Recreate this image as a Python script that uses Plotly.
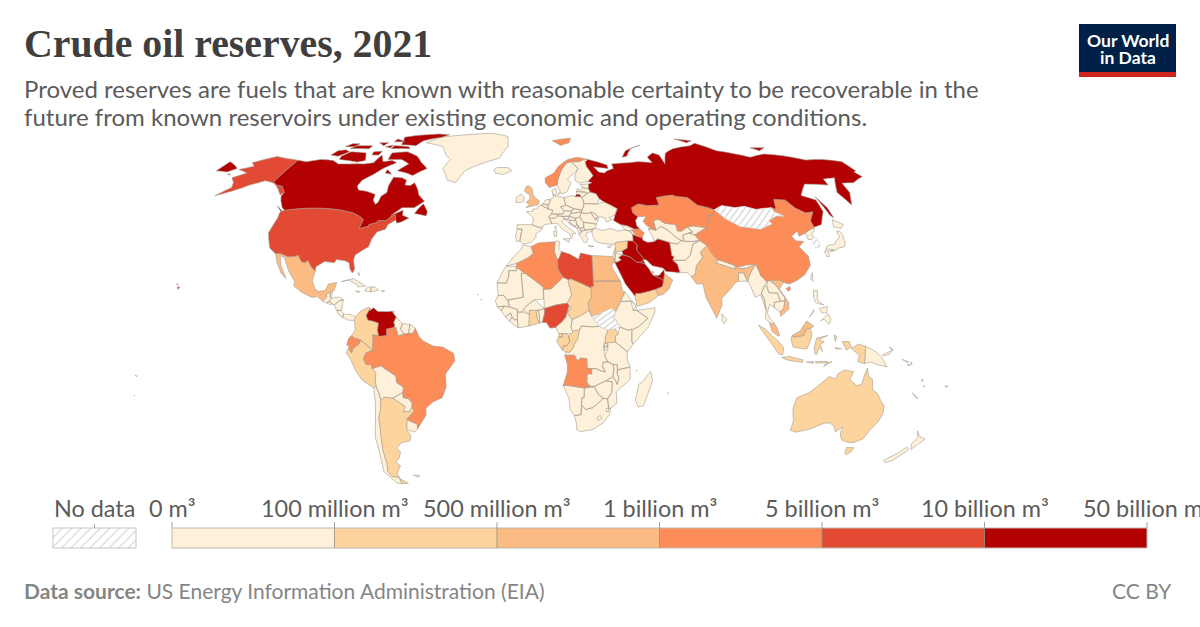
import numpy as np
import plotly.graph_objects as go

# ---------- values (million cubic metres), read / ----------
iso_codes = ["CAN","USA","RUS","SAU","IRN","IRQ","KWT","ARE","QAT","VEN","NGA","LBY","DZA","AGO","BRA","ECU","KAZ","CHN","NOR","AZE",
 "COL","PER","ARG","MEX","GBR","IND","EGY","SDN","OMN","VNM","MYS","IDN","AUS","GHA","GAB","COG","UGA","TCD","YEM","SYR","GNQ","BRN",
 "GRL","ISL","IRL","PRT","ESP","FRA","BEL","NLD","DEU","DNK","CHE","AUT","ITA","POL","CZE","SVK","HUN","SVN","HRV","BIH","SRB","MNE","ALB","MKD","GRC","BGR","ROU","MDA","UKR","BLR","LTU","LVA","EST","FIN","SWE","TUR","GEO","ARM","CYP","LBN","ISR","JOR",
 "UZB","TKM","KGZ","TJK","AFG","PAK","NPL","BTN","BGD","PRK","JPN","TWN","MMR","THA","LAO","KHM","PHL","LKA","PNG","NZL","NCL","FJI","SLB",
 "GTM","BLZ","HND","SLV","NIC","CRI","PAN","CUB","HTI","DOM","JAM","PRI","BHS","TTO","GUY","SUR","GUF","BOL","PRY","CHL","URY","FLK",
 "MAR","ESH","TUN","ERI","DJI","ETH","SOM","KEN","TZA","RWA","BDI","COD","CMR","CAF","NER","BEN","TGO","CIV","LBR","SLE","GIN","GNB","SEN","MLI","MRT","BFA","NAM","ZMB","MWI","MOZ","ZWE","BWA","ZAF","LSO","SWZ","MDG",
 "VUT","CPV","MUS","COM","WSM","TON","TLS",
 "MNG","SSD","KOR"]
reserves_million_m3 = [26800,7500,12700,41000,33000,23000,16000,15500,4000,48000,5900,7700,1940,1200,2000,1300,4800,4100,1200,1110,
 320,140,380,900,520,700,520,800,850,700,570,390,300,105,320,250,400,240,480,400,175,170,
 1,1,1,20,25,15,1,15,20,70,1,8,80,20,2,2,5,1,10,1,12,1,25,1,2,2,95,1,60,30,2,1,1,1,1,50,5,1,1,1,2,1,
 94,95,6,2,1,55,1,1,4,1,7,0.5,20,60,1,1,20,1,30,6,1,1,1,
 12,1,1,1,1,1,1,20,1,1,1,1,1,40,1,14,1,30,1,25,1,1,
 1,1,68,1,1,1,1,1,1,1,1,28,30,1,25,1,1,16,1,1,1,1,1,1,1,1,1,1,1,1,1,2,1,1,1,1,
 1,1,1,1,1,1,1,
 None,None,None]
assert len(iso_codes) == len(reserves_million_m3)
bin_edges = [100,500,1000,5000,10000]
bin_colors = ["#fef0d9","#fdd49e","#fdbb84","#fc8d59","#e34a33","#b30000"]
legend_labels = ["0 m³","100 million m³","500 million m³","1 billion m³","5 billion m³","10 billion m³","50 billion m³"]

# ---------- hand-traced base map (lon,lat rings); no topojson is reachable offline ----------
GEO = {
"CAN":["-141,69.6 -135,69 -128,70 -120,69.5 -115,68 -108,68 -100,68 -95,68.5 -94,72 -90,69 -85,69.5 -81.5,68.5 -87,66 -90,63.5 -94,61 -94.5,58.7 -92.5,57 -88,56.5 -82.5,55.2 -82,53 -80,51.3 -79,52 -79,54.5 -77,56 -78,58.7 -78,62.3 -73,62 -70,61 -69.5,59 -66.5,58.8 -65,60 -62,57.5 -60,55 -56,52.5 -60,50 -66,50 -70,47 -65,49 -64.5,47 -61,46 -64,44.5 -66,44 -67,45.2 -68,47.3 -70,46.5 -71.5,45 -75,45 -76.5,44 -79,43.5 -79,42.8 -83,42 -82.5,45.3 -84.5,46.5 -89,48 -95,49 -123,49 -125,50 -128,52.5 -130,54.5 -130,56 -134,58.5 -137.5,59 -141,60.3",
 "-62,66 -68,63 -72,64 -78,65 -74,68 -80,70 -88,70 -89,73 -80,73.5 -72,71.5 -67,68.5","-117,70 -105,68.8 -101,69.5 -105,73 -115,73.5 -118,71.5","-62,82.5 -70,83 -85,82 -92,81 -88,77 -78,76.5 -76,79 -66,81","-125,72 -120,71.5 -116,73.5 -120,74.5 -124,74","-80,75 -92,75 -92,76.5 -82,76","-59,47.7 -53,46.8 -53,48.5 -56,51.5 -57.5,50","-128,50.7 -123.5,48.4 -125,48.8","-84,64 -80,63.5 -84,65.5","-118,75 -106,75 -106,76.5 -116,76.5","-100,72 -96,72 -96,73.8 -101,73.5","-95,80 -88,78.5 -95,78.5","-123,76 -117,76 -116,77.5 -121,77.5","-104,78 -99,76.5 -98,78","-97,76 -93,75.4 -93,76.8"],
"USA":["-124.7,48.4 -123,49 -95,49 -89,48 -84.5,46.5 -82.5,45.3 -83,42 -79,42.8 -79,43.5 -76.5,44 -75,45 -71.5,45 -70,46.5 -68,47.3 -67,45.2 -70,43.5 -70.5,41.7 -74,40.7 -75.5,38 -76,35 -78,33.9 -81,32 -81.3,30 -80,26.5 -80.7,25.1 -82,26.5 -83,29 -85,29.7 -89,30.2 -89.5,29 -94,29.5 -97.3,27.5 -97.2,25.9 -99.5,27.5 -101.4,29.8 -103,29 -104.5,29.6 -106.5,31.8 -108.2,31.4 -111,31.3 -114.8,32.5 -117.1,32.5 -120.5,34.5 -122.5,37.5 -124.3,40.3 -124,46",
 "-141,69.6 -141,60.3 -137.5,59 -134,58.5 -130,56 -131,55 -135,57.5 -140,59.8 -146,60.8 -152,59 -154,58 -158,56.5 -164,54.7 -160,58 -162,60 -166,62 -161,64 -168,65.5 -162,67 -166,68.5 -156.5,71.3 -150,70.5","-155.9,20 -155,19.7 -155.6,18.9 -156,19.6","-156.7,21 -156,20.9 -156.4,20.6","-171,63.8 -168.8,63.3 -170,63.2"],
"MEX":["-117.1,32.5 -114.8,32.5 -111,31.3 -108.2,31.4 -106.5,31.8 -104.5,29.6 -103,29 -101.4,29.8 -99.5,27.5 -97.2,25.9 -97.8,22.3 -96,19 -94.5,18.2 -91.5,18.5 -90.5,21 -87,21.5 -87.7,18.5 -88.9,17.9 -89.2,17.8 -91,17.2 -90.5,16 -92.2,14.5 -94.5,16.2 -97,15.9 -102,18 -105.5,20.3 -105.5,22 -109,26 -112.5,31 -114.6,31.7 -113,28 -110,24 -109.5,23 -112,25 -115,29"],
"GTM":["-92.2,14.5 -90.5,16 -91,17.2 -89.2,17.8 -89,15.9 -88.3,15.7 -89.3,14.4 -90.2,13.8"],"BLZ":["-89.2,17.8 -88.9,17.9 -88.3,18.4 -88.3,16.5 -89,15.9"],"HND":["-89.3,14.4 -88.3,15.7 -85,16 -83.2,15 -84.7,14.7 -87,13 -87.8,13.4"],"SLV":["-90.2,13.8 -89.3,14.4 -87.8,13.4 -88.8,13.2"],"NIC":["-87,13 -84.7,14.7 -83.2,15 -83.7,11 -85.7,11"],"CRI":["-85.7,11 -83.7,11 -82.6,9.6 -83,8.3 -85,9.6"],"PAN":["-83,8.3 -82.6,9.6 -79.5,9.5 -77.4,8.6 -77.9,7.2 -80.4,7.3"],
"CUB":["-85,21.9 -80,23 -74.2,20.2 -77.7,19.9 -78,20.8 -82,22.4"],"HTI":["-74.4,18.4 -71.8,18 -71.7,19.8 -73.3,19.9"],"DOM":["-71.8,18 -68.4,18.6 -69.9,19.8 -71.7,19.8"],"JAM":["-78.3,18.4 -76.3,18.1 -77,17.7"],"PRI":["-67.2,18.5 -65.7,18.4 -66.5,17.9"],"BHS":["-78.2,25.2 -77.4,25 -77.7,24"],"TTO":["-61.9,10.7 -61,10.7 -61,10.1 -61.9,10.1"],
"COL":["-77.9,7.2 -77.4,8.6 -75.5,10.7 -72,12.2 -71.3,11.8 -72.9,9 -72,7.3 -70,7 -67.5,6.2 -67.8,3.5 -67.3,1.5 -69.8,1.7 -69.7,-0.5 -70,-4.2 -72,-2.4 -75.2,-0.1 -77.5,0.4 -78.9,1.4 -77.3,3.8"],
"VEN":["-71.3,11.8 -71.4,10.9 -70,12 -68,10.6 -64,10.5 -62,10.7 -60,8.5 -61,6.5 -60.5,5.2 -61,4.5 -64,4 -64,1.5 -66.9,1.2 -67.3,1.5 -67.8,3.5 -67.5,6.2 -70,7 -72,7.3 -72.9,9"],
"GUY":["-60,8.5 -57.2,6 -58,4 -56.5,2 -59,1.3 -60,4.5 -61,4.5 -60.5,5.2 -61,6.5"],"SUR":["-57.2,6 -54,5.8 -54.5,2.3 -56.5,2 -58,4"],"GUF":["-54,5.8 -51.6,4.2 -52.7,2.3 -54.5,2.3"],
"BRA":["-51.6,4.2 -50,1 -48,-0.7 -44,-2.5 -40,-2.8 -35.3,-5.2 -34.8,-8 -39,-13 -39,-18 -41,-22 -45,-23.5 -48.5,-26 -48.7,-28.5 -53.4,-33.7 -53.2,-32 -57.6,-30.2 -53.7,-27 -54.6,-25.5 -54.3,-24 -55.8,-22.3 -58,-22 -58,-20 -57.5,-18 -60.2,-16.3 -60.5,-13.7 -65.3,-10.8 -66.5,-9.9 -70.5,-11 -70.6,-9.5 -73,-9.4 -74,-7.3 -72.8,-5 -70,-4.2 -69.7,-0.5 -69.8,1.7 -67.3,1.5 -66.9,1.2 -64,1.5 -64,4 -61,4.5 -60,4.5 -59,1.3 -56.5,2 -54.5,2.3 -52.7,2.3"],
"ECU":["-78.9,1.4 -77.5,0.4 -75.2,-0.1 -75.5,-1.5 -78.3,-3.4 -79,-5 -80.3,-3.4 -79.8,-2.2 -81,-2.2 -80,0.7"],
"PER":["-80.3,-3.4 -79,-5 -78.3,-3.4 -75.5,-1.5 -75.2,-0.1 -72,-2.4 -70,-4.2 -72.8,-5 -74,-7.3 -73,-9.4 -70.6,-9.5 -70.5,-11 -69,-12.5 -69.5,-15.5 -69.4,-17.5 -70.4,-18.3 -75,-15.5 -77.5,-12 -79.5,-7.5 -81.3,-5"],
"BOL":["-69.4,-17.5 -69.5,-15.5 -69,-12.5 -70.5,-11 -66.5,-9.9 -65.3,-10.8 -60.5,-13.7 -60.2,-16.3 -57.5,-18 -58,-20 -62.6,-22.2 -66.2,-21.8 -67.9,-22.8 -68.5,-20"],
"PRY":["-58,-20 -58,-22 -55.8,-22.3 -54.3,-24 -54.6,-25.5 -56,-27.3 -58.6,-27.2 -57.6,-25.3 -62.6,-22.2"],
"CHL":["-70.4,-18.3 -69.4,-17.5 -68.5,-20 -67.9,-22.8 -68.4,-26 -70,-30 -70.2,-33.5 -71,-38 -71.7,-42 -72,-47 -73,-50 -72,-52 -68.5,-52.3 -68.6,-54.9 -71,-54.5 -75,-50 -74,-45 -73.5,-41 -73.5,-37 -71.5,-30 -70.5,-25"],
"ARG":["-62.6,-22.2 -57.6,-25.3 -58.6,-27.2 -56,-27.3 -54.6,-25.5 -53.7,-27 -57.6,-30.2 -58.4,-34 -57,-36.5 -58,-38.3 -62,-39 -65,-41 -63.7,-42.5 -65.3,-45 -67.5,-46.5 -65.8,-47.8 -69,-51 -68.5,-52.3 -72,-52 -73,-50 -72,-47 -71.7,-42 -71,-38 -70.2,-33.5 -70,-30 -68.4,-26 -67.9,-22.8 -66.2,-21.8","-68.6,-52.7 -65.2,-54.7 -68.6,-54.9"],
"URY":["-57.6,-30.2 -53.2,-32 -53.4,-33.7 -55,-35 -58.4,-34"],"FLK":["-61,-51.5 -58,-51.5 -59,-52.3"],
"GRL":["-73,78 -66,81 -50,82.5 -32,83.5 -20,81.5 -18,76 -22,70.5 -32,68 -40,65 -43,60 -48,61 -53,66 -51,70 -55,72 -60,76"],"ISL":["-24,65.5 -22,66.4 -16,66.4 -13.6,65 -18,63.5 -22.5,63.9"],
"GBR":["-5,50 1.3,51.2 1.7,52.7 0,53.5 -1.7,55.5 -2,57.5 -3.5,58.6 -5,58.6 -6,56.5 -3.2,55 -3,53.5 -5,52 -3,51.4"],"IRL":["-10,52 -6.2,52.2 -6,54 -7.3,55.2 -8.3,55 -10,54"],
"PRT":["-9.5,38.8 -8.9,37 -7.4,37.2 -7,39.5 -6.5,41.7 -8.8,41.8"],"ESP":["-8.8,41.8 -6.5,41.7 -7,39.5 -7.4,37.2 -5.6,36 -2,36.8 0,38.6 0,40 3.2,41.9 0,42.7 -1.8,43.4 -9,43.4"],
"FRA":["-1.8,43.4 0,42.7 3.2,42.4 4,43.5 7.5,43.8 6.7,45.5 6,46.2 7.5,47.6 8.2,49 6,49.5 2.5,51 1.5,50.5 0,49.5 -1.5,49.5 -1.5,48.6 -4.7,48.5 -1.2,46","8.6,42.5 9.5,43 9.4,41.5"],
"BEL":["2.5,51 3.4,51.4 5.8,51.2 6,50 6,49.5"],"NLD":["3.4,51.4 4.7,53 7.1,53.3 6.9,52 5.9,50.8 5.8,51.2"],"DEU":["6,49.5 6,50 5.9,50.8 6.9,52 7.1,53.3 8.9,54 8.7,55 10,54.7 14.2,53.9 14.7,51 12.2,50.3 13.8,48.7 13,47.5 9.6,47.5 7.6,47.6 8.2,49"],
"DNK":["8.7,55 8.2,57 10.6,57.7 10.5,56 10,54.7","11,55 12.6,55.7 12,56"],"CHE":["6,46.2 7.5,47.6 9.6,47.5 10.4,46.8 9,45.9 7.5,45.9"],"AUT":["9.6,47.5 13,47.5 13.8,48.7 17,48.7 17,47.7 16,46.7 13,46.6 10.4,46.8"],
"ITA":["6.7,45.5 7.5,43.8 10,44 12.3,41.7 15.6,40 16.2,38 17,39 16.8,40 18.5,40.1 16,41.8 13.6,43.5 12.3,44.5 13.7,45.7 13,46.6 10.4,46.8 9,45.9 7.5,45.9","12.5,38 15.6,38.2 15.1,36.7","8.2,41 9.7,41 9.5,39 8.5,39"],
"POL":["14.2,53.9 18.5,54.8 19.8,54.4 23,54.3 24,52.5 23.5,50.4 22.6,49.1 19,49.4 14.7,51"],"CZE":["12.2,50.3 14.7,51 18.8,49.6 17,48.7 13.8,48.7"],"SVK":["17,48.7 18.8,49.6 22.5,49.1 22.1,48.4 18.8,47.9 17,47.9"],"HUN":["16,46.7 17,47.8 18.8,47.9 22.1,48.4 21,46.3 18.8,45.9"],
"SVN":["13.7,45.5 13,46.6 16,46.7 15.5,45.6"],"HRV":["13.7,45.5 15.5,45.6 16,46.7 18.8,45.9 19,45 16,45.2 16,44.3 18.5,42.5 16,43.5 14.8,45"],"BIH":["16,45.2 19,45 19.3,43.6 18.5,42.5 16,44.3"],"SRB":["18.8,45.9 21,46.3 22.6,44.3 22.4,42.4 20.6,41.9 20,42.9 19.3,43.6 19,45"],"MNE":["18.5,42.5 19.3,43.6 20,42.9 19.3,41.9"],"ALB":["19.3,41.9 20,42.9 20.6,41.9 21,40.5 20,39.7"],"MKD":["20.6,41.9 22.4,42.4 23,41.3 21,40.9"],
"GRC":["20,39.7 21,40.5 21,40.9 23,41.3 26.3,41.7 26,40.8 23.5,40.3 23,39 24,38 22.9,36.5 21.7,36.9 21,38.5","23.6,35.5 26.3,35.2 24.7,35"],"BGR":["22.6,44.3 27.7,43.7 28.6,43.4 27.6,42 26.3,41.7 23,41.3 22.4,42.4"],"ROU":["21,46.3 22.1,48 24.9,47.7 26.6,48.2 28,46 28.2,45.5 29.7,45 28.6,43.7 27.7,43.9 22.6,44.3"],"MDA":["26.6,48.2 28,48 30,46.4 28.2,45.5 28,46"],
"UKR":["22.1,48.4 22.5,49.1 23.5,50.4 24,51.6 30.5,51.4 34,52.3 40,49.6 38.2,47.1 35,46.2 36.5,45.4 33.5,44.4 33,46 30.7,46.5 29.7,45.5 28.2,45.5 30,46.4 28,48 26.6,48.2 24.9,47.7 22.1,48"],
"BLR":["23.5,52 24,51.6 30.5,51.4 32,53.5 31,55.5 28,56.2 26.6,55.7 23.5,54"],"LTU":["21,56.4 21,55.3 22.8,54.4 23.5,54 26.6,55.7 25,56.4"],"LVA":["21,56.4 21.6,57.6 23.2,57 24.4,58 27.5,57.5 28,56.2 26.6,55.7"],"EST":["23.5,59.2 28,59.5 27.5,57.5 24.4,58"],
"FIN":["21,61 22.9,59.8 28,60.5 31.5,62.9 29,66.9 29,69 28,70 25.7,69 20.6,69 23.9,66 21.5,63"],"SWE":["11.2,59 13,55.4 16,56.2 18.8,60 17,61.5 21.5,64 23.9,66 20.6,69 18,68.5 14.5,65.5 12,61.5"],
"NOR":["5,60 7,58 11.2,59 12,61.5 14.5,65.5 18,68.5 20.6,69 25.7,69 28,70 31,70 25,71 19,70 13,67 10,64 5,62","11,79 24,80.5 22,78 16,76.6"],
"RUS":["28,59.5 30,60 28,60.5 31.5,62.9 29,66.9 29,69 31,70 41,67.5 41,66 35,66.5 33,66.7 35,64.5 38,64 40,65 44,66 44,68 54,68.5 60,69 68,68.5 67,71 72,73 75,72 75,68 80,73 87,75 100,76.5 105,77.7 113,74 129,71 140,72.5 150,71.7 160,69.7 170,70 179.9,69 179.9,65 178,64.5 179,62.5 170,60 163.5,59.8 162,56 156.7,51 155.5,56 163,62 156,61.5 155,59 143,59.4 135.5,54.8 141,53 140,48.5 135,43.5 131,42.5 130.7,43 131,45 135,48.4 131,48 127.5,50 125.5,53 120,53.3 117.8,49.5 116,50 108,49.3 103,50.5 98,50 92,50.8 87.3,49.2 85,50 80,51 77,54 71,54.5 70,55 61,54 61,51 55,50.8 51,51.5 47,50 47,48 49,46.5 47.5,45 47.5,43 48.5,41.8 46,41.8 43,43 40,43.5 37,45 38.2,47.1 40,49.6 34,52.3 32,53.5 31,55.5 28,56.2 27.5,57.5",
 "-179.9,69 -170,66 -173,64.5 -179.9,65","142,54.3 143.5,50 143,46 142,47 142,52","52,71 56,74 68,76.8 60,75 55,71.5","95,80 105,79 100,78","137,75.5 146,75.5 140,74","19.8,54.4 22.8,54.4 22.6,55.1 20.9,55.3"],
"TUR":["26,40 26.3,41.7 28,42 31,41.2 35,42 38,41 41.5,41.5 43.5,41 44.8,39.7 44.5,37.2 42,37.2 36.5,36.7 36,36 32,36.1 30,36.3 27.3,37 26.3,39"],"GEO":["40,43.5 43,43 46,41.8 43.5,41 41.5,41.5"],"ARM":["43.5,41 45,41.2 46.5,39 44.8,39.7"],"AZE":["45,41.2 46,41.8 48.5,41.8 50.3,40.3 48.9,38.4 46.5,39"],"CYP":["32.3,35 34.5,35.6 33.5,34.6"],
"SYR":["36,36 36.5,36.7 42,37.2 41.3,34.5 38.8,33.4 36,33 35.9,35"],"LBN":["35.1,33.1 36,33.9 36.4,34.5 35.9,34.6"],"ISR":["34.3,31.3 35.1,33.1 35.7,33 35.5,31 34.9,29.5"],"JOR":["35,29.4 35.5,32.7 36.8,32.3 39,32 37,31 38,30 36,29.2"],
"IRQ":["38.8,33.4 41.3,34.5 42,37.2 44.5,37.2 46,35.7 45.4,34 46,33 47.7,31 48.6,30 47.7,30.1 46.5,29.1 44.7,29.2 42,31.2 39,32"],
"IRN":["44.5,37.2 44.8,39.7 46.5,39 48.9,38.4 49,37.5 51,36.7 54,36.9 56,38 61,36.6 60.9,34.3 60.8,31.5 61.7,31.4 60.9,29.9 62.7,28.3 63.3,25.3 57.3,25.7 56,27 51.5,27.9 48.9,30.3 48.6,30 47.7,31 46,33 45.4,34 46,35.7"],
"KWT":["46.5,29.1 47.7,30.1 48.4,28.5"],"SAU":["34.9,29.4 36,29.2 38,30 37,31 39,32 42,31.2 44.7,29.2 46.5,29.1 48.4,28.5 50,26.5 50.8,24.8 51.6,24.2 55.2,22.7 55.7,22 55,20 52,19 48.9,18.2 45,17.4 43.3,17.5 42.8,16.4 39,21 37,25 35.5,28"],"QAT":["50.8,24.8 51.2,26.1 51.6,25"],"ARE":["51.6,24.2 54,24.2 56.4,26.3 56.4,24.9 55.7,22 55.2,22.7"],"OMN":["56.4,24.9 59.8,22.5 57.7,19 55,17 53,16.6 52,19 55,20 55.7,22"],"YEM":["43.3,17.5 45,17.4 48.9,18.2 52,19 53,16.6 49,14 45,12.8 43.5,12.7 42.8,16.4"],
"KAZ":["47,48 47,50 51,51.5 55,50.8 61,51 61,54 70,55 71,54.5 77,54 80,51 85,50 87.3,49.2 85.5,47 83,47 82.5,45.3 80,42.2 74,43 71,42.5 68,41 66,41 66,43.5 61,44 58.5,45.5 56,45 56,41.3 53,42 52.5,41.7 54.7,42 52.5,42.8 51,44.6 53,46.7 49,46.5"],
"UZB":["56,41.3 56,45 58.5,45.5 61,44 66,43.5 66,41 68,41 71,42.5 73,40.7 71,40.2 68,39.5 67.5,37.3 66.5,37.4 64,39 61.9,41.1 60,42.2 58.5,42.7"],"TKM":["52.5,41.7 53,42 56,41.3 58.5,42.7 60,42.2 61.9,41.1 64,39 66.5,37.4 64.5,36 61,36.6 56,38 54,36.9 53.8,39"],"KGZ":["71,42.5 74,43 80,42.2 73.5,39.5 71,40.2 73,40.7"],"TJK":["68,39.5 71,40.2 73.5,39.5 75,37.4 71.5,37 67.8,37.1"],
"AFG":["61,36.6 64.5,36 66.5,37.4 67.8,37.1 71.5,37 75,37.4 71.5,36 70,33.5 69.3,31.9 66.4,29.9 60.9,29.9 61.7,31.4 60.8,31.5 60.9,34.3"],"PAK":["60.9,29.9 66.4,29.9 69.3,31.9 70,33.5 71.5,36 75,37.4 77.8,35.5 74,33 74.5,31 71,27.8 70,24.5 68,23.7 66.5,25.4 61.6,25.1 62.7,28.3"],
"IND":["68,23.7 70,24.5 71,27.8 74.5,31 74,33 77.8,35.5 79,32.5 81,30.2 80,28.8 88,26.5 88,28 89.5,26.8 92,26.8 97,28.3 95,26 93.5,24 92.5,22 91.5,24.3 92,25 89,25.3 88.5,22 87,21.4 85,19.5 80.3,15.5 80.2,13 77.5,8 76,11 73.5,16 72.8,21 70,21 69,22.5"],
"NPL":["80,28.8 81,30.2 88,28 88,26.5"],"BTN":["89,27.3 92,28 92,26.8 89.5,26.8"],"BGD":["88.5,22 89,25.3 92,25 91.5,24.3 92.5,22 90,22"],
"CHN":["73.5,39.5 80,42.2 82.5,45.3 83,47 85.5,47 87.3,49.2 91,45.5 96,42.7 105,41.7 111.8,43.7 111,45 116,46.8 119.7,46.7 116,48.5 116,50 117.8,49.5 120,53.3 125.5,53 127.5,50 131,48 135,48.4 131,45 130.7,43 130.7,42.3 128,41.5 124.4,40 121.5,39 121.8,41 118,39 119,37.3 122.5,37 119.3,35 121.9,31.5 121.5,28 118,24.5 114,22.3 110.5,21 108,21.6 106.5,22.5 102,22.4 101,21.7 98.7,24 97.5,28.3 92,28 89,27.3 88,28 81,30.2 79,32.5 77.8,35.5 75,37.4","108.7,19.3 110.6,20 110.5,18.8 109.5,18.2"],
"TWN":["120.2,23 121.5,25.3 121,22"],"MNG":["87.3,49.2 92,50.8 98,50 103,50.5 108,49.3 116,50 116,48.5 119.7,46.7 116,46.8 111,45 111.8,43.7 105,41.7 96,42.7 91,45.5"],"PRK":["124.4,40 128,41.5 130.7,42.3 129.7,41 127.5,39.7 128.3,38.6 126.7,37.8 125,37.8 125.3,39.5"],"KOR":["126.7,37.8 128.3,38.6 129.4,37 129,35.2 126.5,34.5"],
"JPN":["130.9,34 132.5,35.5 136,36 137.5,37.3 139.8,38.5 140.3,41 141.5,41 142,39.5 140.9,36 139.8,35 136.8,34.5 135,33.6 132.5,34.2","130,33.4 131.8,33.5 131.3,31.3 130.2,31.3","132.3,33.4 134.6,34 134,33.3","140,42.5 141.7,45.4 145.3,43.5 143,42"],
"MMR":["92.5,22 93.5,24 95,26 97.5,28.3 98.7,24 101,21.7 99.5,20.3 97.7,17.5 98.7,15 99,11 98,14 97.3,17 95,15.9 94.3,17.5 93.5,20"],"THA":["99,11 98.7,15 97.7,17.5 99.5,20.3 100.5,20 101,17.7 104.7,17.5 105.5,14.5 102.8,14 102.5,12 100.8,13.4 99.3,10 101,7 102,6.2 101,5.7 100,6.5 98.3,8"],"LAO":["101,21.7 102,22.4 104.5,20.5 107.5,16 107.5,14.5 105.5,14.5 104.7,17.5 101,17.7 100.5,20"],"VNM":["102,22.4 106.5,22.5 108,21.6 105.8,19 109,14 108.8,11.5 105,8.7 104.8,10.5 106.5,11.5 107.5,14.5 107.5,16 104.5,20.5"],"KHM":["102.5,12 102.8,14 105.5,14.5 107.5,14.5 106.5,11.5 104.8,10.5"],
"MYS":["100,6.5 101,5.7 102,6.2 103.4,4 104.2,1.4 103.4,1.4 101,3","109.7,1.6 113,3.2 116,7 119,5 117.5,4.2 115.5,3.9 114.5,1.5 110,0.9"],"BRN":["114.1,4.6 115.1,5 115,4.1"],
"IDN":["95.3,5.5 98,4 104,-1 106,-3 105.7,-5.8 104,-5.5 100.3,-1 97,3","109,0.5 109.7,1.6 110,0.9 114.5,1.5 115.5,3.9 117.5,4.2 118,2 117.5,0 116,-3.5 114,-3.5 110,-2.9","105.3,-6.8 108.5,-6.4 114.5,-7.7 114.3,-8.7 108,-7.8","119.5,-5.5 119,-3 120,0.5 124.8,1.5 121,0 123.3,-0.9 121.5,-1.9 122.8,-4.5 121,-3 120.4,-5.5","131,-0.8 134,-0.8 135,-3.3 138,-1.7 141,-2.6 141,-9.1 138,-8.3 138.5,-6 134.5,-3 132.8,-4","116,-8.5 119,-8.4 119,-9","120,-8.3 125,-8.3 125,-8.8 120,-8.9","123.6,-10.3 125,-9.3 124.2,-9.3","127.5,1.8 128.7,1 128,-0.8","128,-3 130.8,-3.5 128.3,-3.6"],
"TLS":["125,-9.3 127,-8.4 125,-8.8"],
"PHL":["120.5,18.5 122.2,18.4 121.5,15 124,13 120.7,13.9 120,16","122,7 125.5,9.7 126.5,7.5 125.5,5.7 123.5,7.7","122,11.7 125.5,12.5 124.8,10 122.8,10","117.2,8.4 119.5,11.3 119.3,10.3"],"LKA":["79.8,9.7 81.8,7.5 80.7,5.9 79.8,7"],
"PNG":["141,-2.6 145,-4.3 148,-6.5 150.8,-10.3 147,-9.6 143.5,-8.5 141,-9.1","148.3,-5.7 152.3,-4.2 151.5,-5.5 149,-6.2","151,-2.7 153,-4 152.7,-4.3"],"SLB":["157,-7.5 160,-8.5 159,-8.5","159.5,-9.3 160.8,-9.7 160,-9.9","161,-8.5 161.5,-9.6 160.7,-8.9"],
"AUS":["114,-22 113.2,-26 115,-31 115,-34.3 118,-35 123.5,-33.9 129,-31.6 131.5,-31.5 134,-32.7 135.7,-34.9 138,-33 138.3,-35.6 140.5,-38 143.5,-38.8 146.5,-39 150,-37.5 151,-34 153,-31 153.6,-28 153,-25 150.8,-23 149,-20.5 146.3,-19 145.3,-15 143.5,-14 142.5,-10.8 141.7,-13 141,-17 139,-17.4 135.5,-15 136.8,-12.2 132.7,-11.5 130,-13 129.5,-15 126.5,-14 122.3,-17.5 119,-20","144.7,-40.8 148.3,-40.9 148,-42.5 146.8,-43.6 145.5,-42.9"],
"NZL":["172.7,-34.5 175,-36.5 178.5,-37.7 177,-39.5 175.3,-41.6 173.8,-39.3 174.7,-37","172.7,-40.6 174.3,-41.7 170.8,-45.9 168.4,-46.6 166.5,-45.8 170.5,-43"],"NCL":["164,-20.1 167,-22.3 165.5,-21.7"],"FJI":["177.3,-17.5 178.6,-17.5 178,-18.2"],
"VUT":["166.6,-15 167.2,-15.2 167,-16","167.8,-17.5 168.5,-17.6 168.2,-18"],"CPV":["-25.3,17.1 -24.9,16.9 -25.1,16.8","-23.7,15.3 -23.4,15 -23.7,14.9"],"MUS":["57.4,-20 57.8,-20.2 57.5,-20.5"],"COM":["43.2,-11.4 43.5,-11.9 43.2,-11.9"],"WSM":["-172.8,-13.5 -172,-13.8 -172.5,-14"],"TON":["-175.3,-21 -175,-21.2 -175.3,-21.3"],
"MAR":["-5.9,35.8 -2.2,35.1 -1.2,32.5 -3.7,30.8 -8.7,28.7 -13.2,27.7 -9.8,31.5 -6.8,34"],"ESH":["-13.2,27.7 -8.7,27.7 -8.7,26 -12,26 -12,23.5 -13,21.3 -17,21.4 -14.5,26"],"DZA":["-2.2,35.1 1,36.5 8.6,36.9 8.3,33 9.5,30.2 9.8,26.5 11.9,23.5 6.5,19.1 3.2,19 3.2,19.8 -4.8,25 -8.7,27.3 -8.7,28.7 -3.7,30.8 -1.2,32.5"],"TUN":["8.6,36.9 10,37.3 11,36.9 10.2,34.3 11.5,33.2 10.2,30.5 9.5,30.2 8.3,33"],
"LBY":["11.5,33.2 15,32.3 19,30.3 20,32.7 25,31.7 25,20 24,20 24,19.5 15,23 14.2,22.6 11.9,23.5 9.8,26.5 9.5,30.2 10.2,30.5"],"EGY":["25,31.7 31,31.5 34.3,31.3 34.9,29.5 33.5,28 34,26.5 36.9,22 25,22"],"SDN":["25,22 36.9,22 37.5,18.5 38.5,18 36.5,14.3 34.2,10.5 32.4,11.8 27,9.5 24,8.7 22.9,11 22.5,14 24,15.7 24,19.5 25,20"],"SSD":["24,8.7 27,5 30.8,3.5 33.9,4.2 35.9,4.7 34,7.6 33,8 34.2,10.5 32.4,11.8 27,9.5"],
"ERI":["36.5,14.3 38.5,18 43,12.8 41,14.5 37,14.4"],"DJI":["41.8,11 43,12.8 43.4,11.5 42.7,11"],"ETH":["34.2,10.5 36.5,14.3 37,14.4 41,14.5 41.8,11 42.7,11 43.4,11 48,8 44,4.9 42,4 39.5,3.5 35.9,4.7 34,7.6 33,8"],"SOM":["43.4,11 51.2,12 51,10 47.9,4.5 41.6,-1.7 41,-0.9 41,2.8 42,4 44,4.9 48,8"],
"KEN":["35.9,4.7 39.5,3.5 41,4 41,-0.9 41.6,-1.7 39.2,-4.7 37.7,-3.6 34,-1 33.9,1.2 35,2"],"UGA":["30.8,3.5 33.9,4.2 35,2 33.9,1.2 34,-1 29.7,-1.4 29.6,0.6"],"TZA":["30.5,-1 34,-1 37.7,-3.6 39.2,-4.7 39,-7 40.4,-10.4 35,-11.5 34.9,-9.5 33,-9.4 31,-8.5 29.4,-6.2 30.8,-3.5"],"RWA":["29,-1.4 30.5,-1.2 30.8,-2.5 29,-2.8"],"BDI":["29,-2.8 30.8,-2.5 29.4,-4.3"],
"COD":["12.3,-6 13,-4.7 14.5,-4.8 16,-3 16.2,-2 17.7,0 18.5,3.5 19.4,5.1 24,4.8 27,5 30.8,3.5 29.6,0.6 29.7,-1.4 29,-2.8 29.4,-6.2 31,-8.5 28.9,-8.5 28.5,-10 29.8,-12.2 28.4,-12 26,-11 24,-11 22,-11 21.8,-7.3 19.5,-7 17.6,-8 16.5,-5.9"],"COG":["11.2,-4 13,-4.7 14.5,-4.8 16,-3 16.2,-2 17.7,0 18.5,3.5 16.6,3.5 14,1.4 14.4,-1 13,-2.4 11.8,-2.4"],"GAB":["8.8,-0.7 9.7,1 11.3,1 11.3,2.2 13.2,2.2 14,1.4 14.4,-1 13,-2.4 11.8,-2.4 11.2,-4"],"GNQ":["9.7,1 11.3,1 11.3,2.2 9.8,2.2"],
"CMR":["8.5,4.8 9.8,2.2 13.2,2.2 16.2,2.2 15,4.5 15.5,7.5 13.5,10 15,12 14.2,12.8 12.8,8.5 11,6.6"],"CAF":["15,4.5 16.2,2.2 18.5,3.5 19.4,5.1 24,4.8 27,5 24,8.7 22.9,11 19,9 15.5,7.5"],"TCD":["14.2,12.8 15,12 13.5,10 15.5,7.5 19,9 22.9,11 22.5,14 24,15.7 24,19.5 15,23 14,22 15.5,16.9 13.5,13.7"],"NER":["3.6,11.7 3.2,19 6.5,19.1 11.9,23.5 14.2,22.6 15,23 14,22 15.5,16.9 13.5,13.7 11,13.4 8.5,13"],
"NGA":["2.7,6.4 4.4,6.4 6,4.3 8.5,4.5 8.5,4.8 11,6.6 12.8,8.5 14.2,12.8 13.5,13.7 11,13.4 8.5,13 3.6,11.7 3.7,10"],"BEN":["1.6,6.2 2.7,6.4 3.7,10 3.6,11.7 1,11 1.4,9.3"],"TGO":["1.2,6.1 1.6,6.2 1.4,9.3 1,11 0,11 0.5,8"],"GHA":["-3,5.1 1.2,6.1 0.5,8 0,11 -2.8,11 -2.9,7.5"],"CIV":["-7.6,4.4 -3,5.1 -2.9,7.5 -2.8,9.5 -5.5,10.4 -8,10.3 -8,7.5"],"LBR":["-11.4,6.9 -7.6,4.4 -8,7.5 -9.3,7.4 -10.2,8.5"],"SLE":["-13.2,8.5 -11.4,6.9 -10.2,8.5 -11,10"],"GIN":["-15,10.9 -13.2,8.5 -11,10 -10.2,8.5 -9.3,7.4 -8,7.5 -8,10.3 -8,11.4 -10.5,12 -13.7,12.6"],"GNB":["-16.7,12.3 -13.7,12.6 -15,10.9"],"SEN":["-17.5,14.7 -16.4,16.6 -14,16.7 -12.2,14.8 -11.4,12.4 -13.7,12.6 -16.7,12.3"],
"MLI":["-12.2,14.8 -11.4,12.4 -10.5,12 -8,11.4 -8,10.3 -5.5,10.4 -5.5,11.4 -3,13.5 -0.5,15 3.2,15.3 3.2,19 3.2,19.8 -4.8,25 -6.5,25 -5.5,16 -12,15"],"MRT":["-17,21.4 -13,21.3 -12,23.5 -12,26 -8.7,26 -8.7,27.3 -4.8,25 -6.5,25 -5.5,16 -12.2,14.8 -14,16.7 -16.4,16.6"],"BFA":["-5.5,11.4 -2.8,9.5 -2.8,11 0,11 1,11 3.6,11.7 -0.5,15 -3,13.5"],
"AGO":["12.3,-6 16.5,-5.9 17.6,-8 19.5,-7 21.8,-7.3 22,-11 24,-11 24,-13 22,-13 22,-16.2 23.4,-17.6 20.9,-18.3 14,-17.4 11.8,-17.3 13.5,-12.3 13.5,-9.5"],"NAM":["11.8,-17.3 14,-17.4 20.9,-18.3 23.4,-17.6 25.2,-17.8 21,-18.3 21,-22 20,-22 20,-28.4 17,-28.7 15,-26.5 14.5,-22.5"],"ZMB":["22,-11 24,-11 26,-11 28.4,-12 29.8,-12.2 28.5,-10 28.9,-8.5 31,-8.5 33,-9.4 33.5,-11 33.2,-14 30.2,-15.6 28,-16.5 25.2,-17.8 23.4,-17.6 22,-16.2 22,-13 24,-13"],"MWI":["33,-9.4 34.9,-9.5 35,-13 35.8,-14.5 35.2,-17 34.4,-15.5 33.2,-14 33.5,-11"],
"MOZ":["40.4,-10.4 40.7,-15 34.9,-19.9 35.5,-24 32.9,-26 32,-26 31.3,-22.4 33,-20 33,-16 30.2,-15.6 33.2,-14 34.4,-15.5 35.2,-17 35.8,-14.5 35,-13 35,-11.5"],"ZWE":["25.2,-17.8 28,-16.5 30.2,-15.6 33,-16 33,-20 31.3,-22.4 29.4,-22.2 27,-20.5"],"BWA":["20,-22 21,-22 21,-18.3 25.2,-17.8 27,-20.5 29.4,-22.2 26.5,-24.7 25,-25.7 22,-26.5 20,-24.7"],"ZAF":["17,-28.7 20,-28.4 20,-24.7 22,-26.5 25,-25.7 26.5,-24.7 29.4,-22.2 31.3,-22.4 32,-26 32.9,-26 32.5,-28.5 30,-31.5 25.7,-34 20,-34.8 18.4,-34 18.2,-32"],"LSO":["27,-29.6 28.5,-28.6 29.4,-29.6 28,-30.6"],"SWZ":["31,-26 32,-26 32,-27.2 31,-27.2"],"MDG":["49.3,-12 50.4,-15.5 47.2,-25 45,-25.5 43.5,-23 44.5,-17 46.5,-15.5"],
}

def ring(text):
    pts = [tuple(map(float, p.split(","))) for p in text.split()]
    area = sum(a[0]*b[1]-b[0]*a[1] for a, b in zip(pts, pts[1:]+pts[:1]))
    if area > 0:            # d3-geo wants exteriors clockwise
        pts = pts[::-1]
    return pts

RINGS = {k: [ring(t) for t in v] for k, v in GEO.items()}
BORDER = "#a39c90"
fig = go.Figure()

def add_group(codes, fill, border, width):
    lon, lat = [], []
    for c in codes:
        for r in RINGS[c]:
            for p in r + [r[0]]:
                lon.append(p[0]); lat.append(p[1])
            lon.append(None); lat.append(None)
    fig.add_trace(go.Scattergeo(lon=lon, lat=lat, mode="lines", fill="toself", fillcolor=fill,
                                line=dict(color=border, width=width), hoverinfo="skip", showlegend=False))

bins = [None if v is None else int(np.digitize(v, bin_edges)) for v in reserves_million_m3]
for b, color in enumerate(bin_colors):
    add_group([c for c, k in zip(iso_codes, bins) if k == b], color, BORDER, 0.6)
nodata = [c for c, k in zip(iso_codes, bins) if k is None]
add_group(nodata, "#ffffff", "#c8c8c8", 0.5)

def inside(x, y, r):
    c = False
    for (x1, y1), (x2, y2) in zip(r, r[1:]+r[:1]):
        if (y1 > y) != (y2 > y) and x < (x2-x1)*(y-y1)/(y2-y1)+x1:
            c = not c
    return c

# diagonal hatch for "no data" countries, clipped to their outlines
hlon, hlat = [], []
for code in nodata:
    for r in RINGS[code]:
        xs, ys = zip(*r)
        for off in np.arange(-400, 400, 3.2):
            prev = False
            for la in np.arange(min(ys), max(ys)+0.1, 0.1):
                lo = off + la*1.55
                now = min(xs) <= lo <= max(xs) and inside(lo, la, r)
                if now:
                    hlon.append(lo); hlat.append(la)
                elif prev:
                    hlon.append(None); hlat.append(None)
                prev = now
            if prev:
                hlon.append(None); hlat.append(None)
fig.add_trace(go.Scattergeo(lon=hlon, lat=hlat, mode="lines", hoverinfo="skip", showlegend=False,
                            line=dict(color="#dcdcdc", width=1.6)))

W, H = 1200, 627
px = lambda x: x/W
py = lambda y: 1-y/H
fig.update_layout(width=W, height=H, margin=dict(l=0, r=0, t=0, b=0), paper_bgcolor="white",
    showlegend=False,
    geo=dict(projection_type="robinson", domain=dict(x=[px(115), px(957)], y=[py(553), py(126)]),
             showframe=False, showland=False, showocean=False, showlakes=False, showrivers=False,
             showcountries=False, showcoastlines=False, showsubunits=False, bgcolor="rgba(0,0,0,0)",
             visible=False))

shapes, ann = [], []
def text(x, y, s, size, color, anchor="left", family="Lato", height=None):
    a = dict(x=px(x), y=py(y), xref="paper", yref="paper", text=s, showarrow=False,
             xanchor=anchor, yanchor="middle", align=anchor, font=dict(family=family, size=size, color=color))
    if height:
        a["height"] = height
        a["borderpad"] = 0
    ann.append(a)
def rect(x0, y0, x1, y1, fill, line=None, width=1):
    shapes.append(dict(type="rect", xref="paper", yref="paper", x0=px(x0), x1=px(x1), y0=py(y0), y1=py(y1),
                       fillcolor=fill, line=dict(color=line or fill, width=width if line else 0), layer="above"))
def seg(x0, y0, x1, y1, color, width=1):
    shapes.append(dict(type="line", xref="paper", yref="paper", x0=px(x0), x1=px(x1), y0=py(y0), y1=py(y1),
                       line=dict(color=color, width=width), layer="above"))

GREY = "#5b5b5b"
text(22, 44, "<b>Crude oil reserves, 2021</b>", 39.8, "#3f3f3f", family="Liberation Serif")
text(22, 88, "Proved reserves are fuels that are known with reasonable certainty to be recoverable in the", 24, GREY)
text(22, 117, "future from known reservoirs under existing economic and operating conditions.", 24, GREY)

# logo
rect(1079, 24, 1176, 77, "#002147")
rect(1079, 72, 1176, 77, "#ce261e")
text(1127.5, 40, "<b>Our World</b>", 17.5, "#ffffff", "center", height=15)
text(1127.5, 58, "<b>in Data</b>", 17.5, "#ffffff", "center", height=15)

# legend
bar_x = [172, 334.5, 497, 659.5, 822, 984.5, 1147]
for i, c in enumerate(bin_colors):
    rect(bar_x[i], 528, bar_x[i+1], 548, c)
rect(172, 528, 1147, 548, "rgba(0,0,0,0)", "#bdb8b0", 1)
for i, x in enumerate(bar_x):
    seg(x, 522, x, 548 if 0 < i < 6 else 528, "#8f8a84", 0.8)
    text(x, 508, legend_labels[i], 23.4, GREY, "center")
rect(53, 528, 136, 548, "#ffffff")
for x in np.arange(33, 136, 9.5):
    x0, y0, x1, y1 = x, 548, x+20, 528
    if x0 < 53: y0 -= 53-x0; x0 = 53
    if x1 > 136: y1 += x1-136; x1 = 136
    seg(x0, y0, x1, y1, "#dcdcdc", 1.2)
rect(53, 528, 136, 548, "rgba(0,0,0,0)", "#c4c4c4", 1)
seg(94.5, 524, 94.5, 528, "#8f8a84", 0.8)
text(94, 508, "No data", 23.4, GREY, "center")

# footer
text(22, 590, "<b>Data source:</b> US Energy Information Administration (EIA)", 21, "#858585")
text(1174, 590, "CC BY", 21, "#858585", "right")

fig.update_layout(shapes=shapes, annotations=ann)
fig.write_html("out.html", config={"displayModeBar": False},
               post_script="document.body.style.margin='0';document.body.style.overflow='hidden';")
